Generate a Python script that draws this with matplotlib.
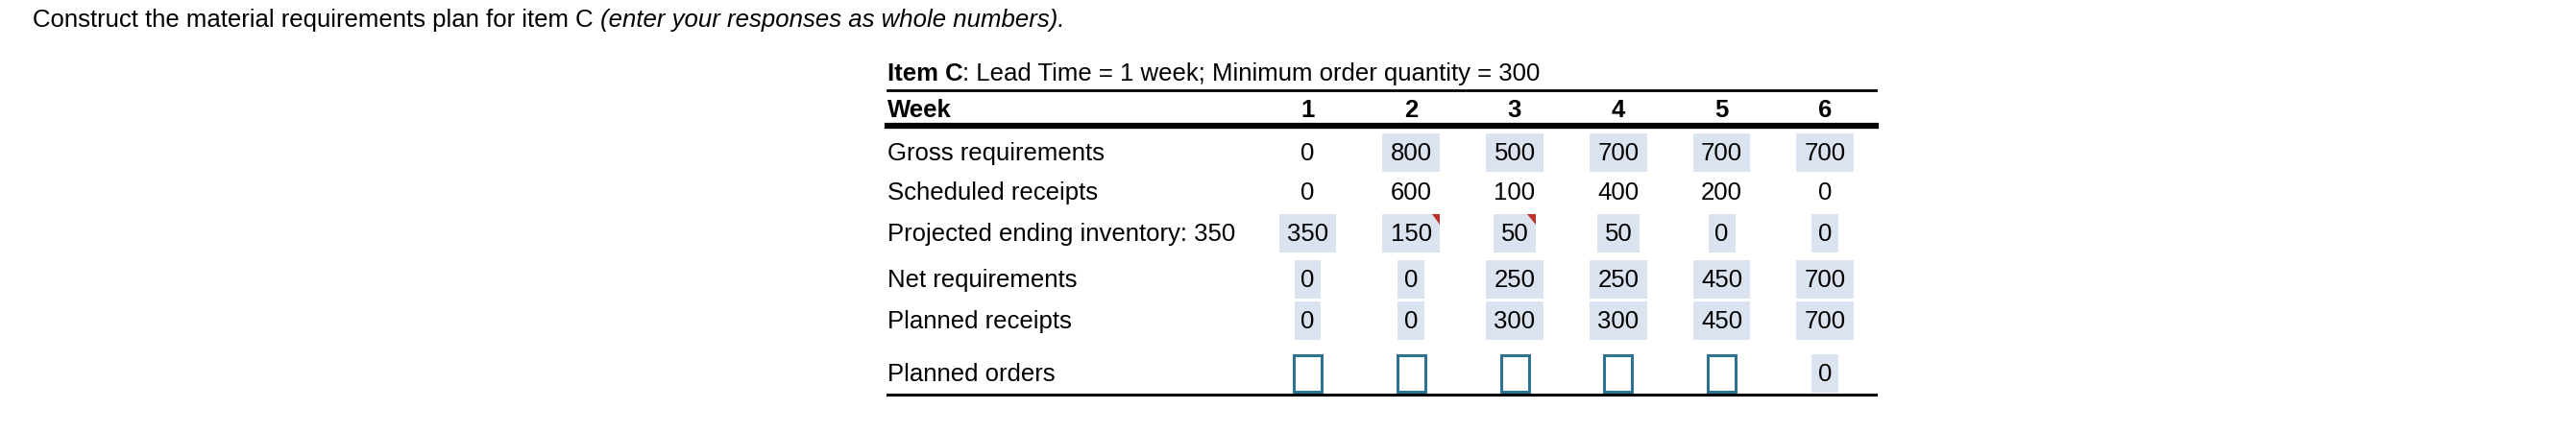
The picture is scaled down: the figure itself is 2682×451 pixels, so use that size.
import matplotlib.pyplot as plt
from matplotlib.patches import Rectangle, Polygon

plt.rcParams['font.family'] = ['Liberation Sans', 'DejaVu Sans']

weeks = [1, 2, 3, 4, 5, 6]
row_labels = ["Gross requirements", "Scheduled receipts",
              "Projected ending inventory: 350", "Net requirements",
              "Planned receipts", "Planned orders"]
gross = [0, 800, 500, 700, 700, 700]
scheduled = [0, 600, 100, 400, 200, 0]
projected = [350, 150, 50, 50, 0, 0]
net_req = [0, 0, 250, 250, 450, 700]
planned_rec = [0, 0, 300, 300, 450, 700]
planned_ord = [None, None, None, None, None, 0]
rows = [gross, scheduled, projected, net_req, planned_rec, planned_ord]
# which cells are shaded answers
shaded = [[False, True, True, True, True, True],
          [False] * 6,
          [True] * 6,
          [True] * 6,
          [True] * 6,
          [False] * 5 + [True]]
flagged = [(2, 1), (2, 2)]  # red corner marks (row, col)

fig = plt.figure(figsize=(26.82, 4.52), dpi=100)
ax = fig.add_axes([0, 0, 1, 1])
ax.set_xlim(0, 1568)
ax.set_ylim(263, 0)
ax.axis('off')

fs = 18.5
t1 = ax.text(20, 12, "Construct the material requirements plan for item C ",
             fontsize=fs, va='center', ha='left')
ax.annotate("(enter your responses as whole numbers).", xy=(1, 0.5),
            xycoords=t1, va='center', ha='left', fontsize=fs, style='italic')

c1 = ax.text(540, 45, "Item C", fontsize=fs, fontweight='bold', va='center')
ax.annotate(": Lead Time = 1 week; Minimum order quantity = 300", xy=(1, 0.5),
            xycoords=c1, va='center', ha='left', fontsize=fs)

x0, x1 = 540, 1142
ax.plot([x0, x1], [55, 55], color='black', lw=2)
ax.plot([x0, x1], [77, 77], color='black', lw=4.5)
ax.plot([x0, x1], [240, 240], color='black', lw=2.2)

col_x = [796, 859, 922, 985, 1048, 1111]
row_y = [93, 117, 142, 170, 195, 227]

ax.text(540, 67, "Week", fontsize=fs, fontweight='bold', va='center')
for cx, w in zip(col_x, weeks):
    ax.text(cx, 67, str(w), fontsize=fs, fontweight='bold', va='center', ha='center')

for r, (lab, vals, y) in enumerate(zip(row_labels, rows, row_y)):
    ax.text(540, y, lab, fontsize=fs, va='center', ha='left')
    for c, (cx, v) in enumerate(zip(col_x, vals)):
        if v is None:
            ax.add_patch(Rectangle((cx - 8.5, y - 11), 17, 22, fill=False,
                                   edgecolor='#2f7393', lw=2.2))
            continue
        s = str(v)
        if shaded[r][c]:
            w = 9.3 * len(s) + 7
            ax.add_patch(Rectangle((cx - w / 2, y - 11.5), w, 23,
                                   facecolor='#dce3f0', edgecolor='none'))
            if (r, c) in flagged:
                ax.add_patch(Polygon([[cx + w / 2 - 5, y - 11.5], [cx + w / 2, y - 11.5],
                                      [cx + w / 2, y - 5]], closed=True,
                                     facecolor='#c0302a', edgecolor='none'))
        ax.text(cx, y, s, fontsize=fs, va='center', ha='center')

fig.savefig("out.png", dpi=100)
